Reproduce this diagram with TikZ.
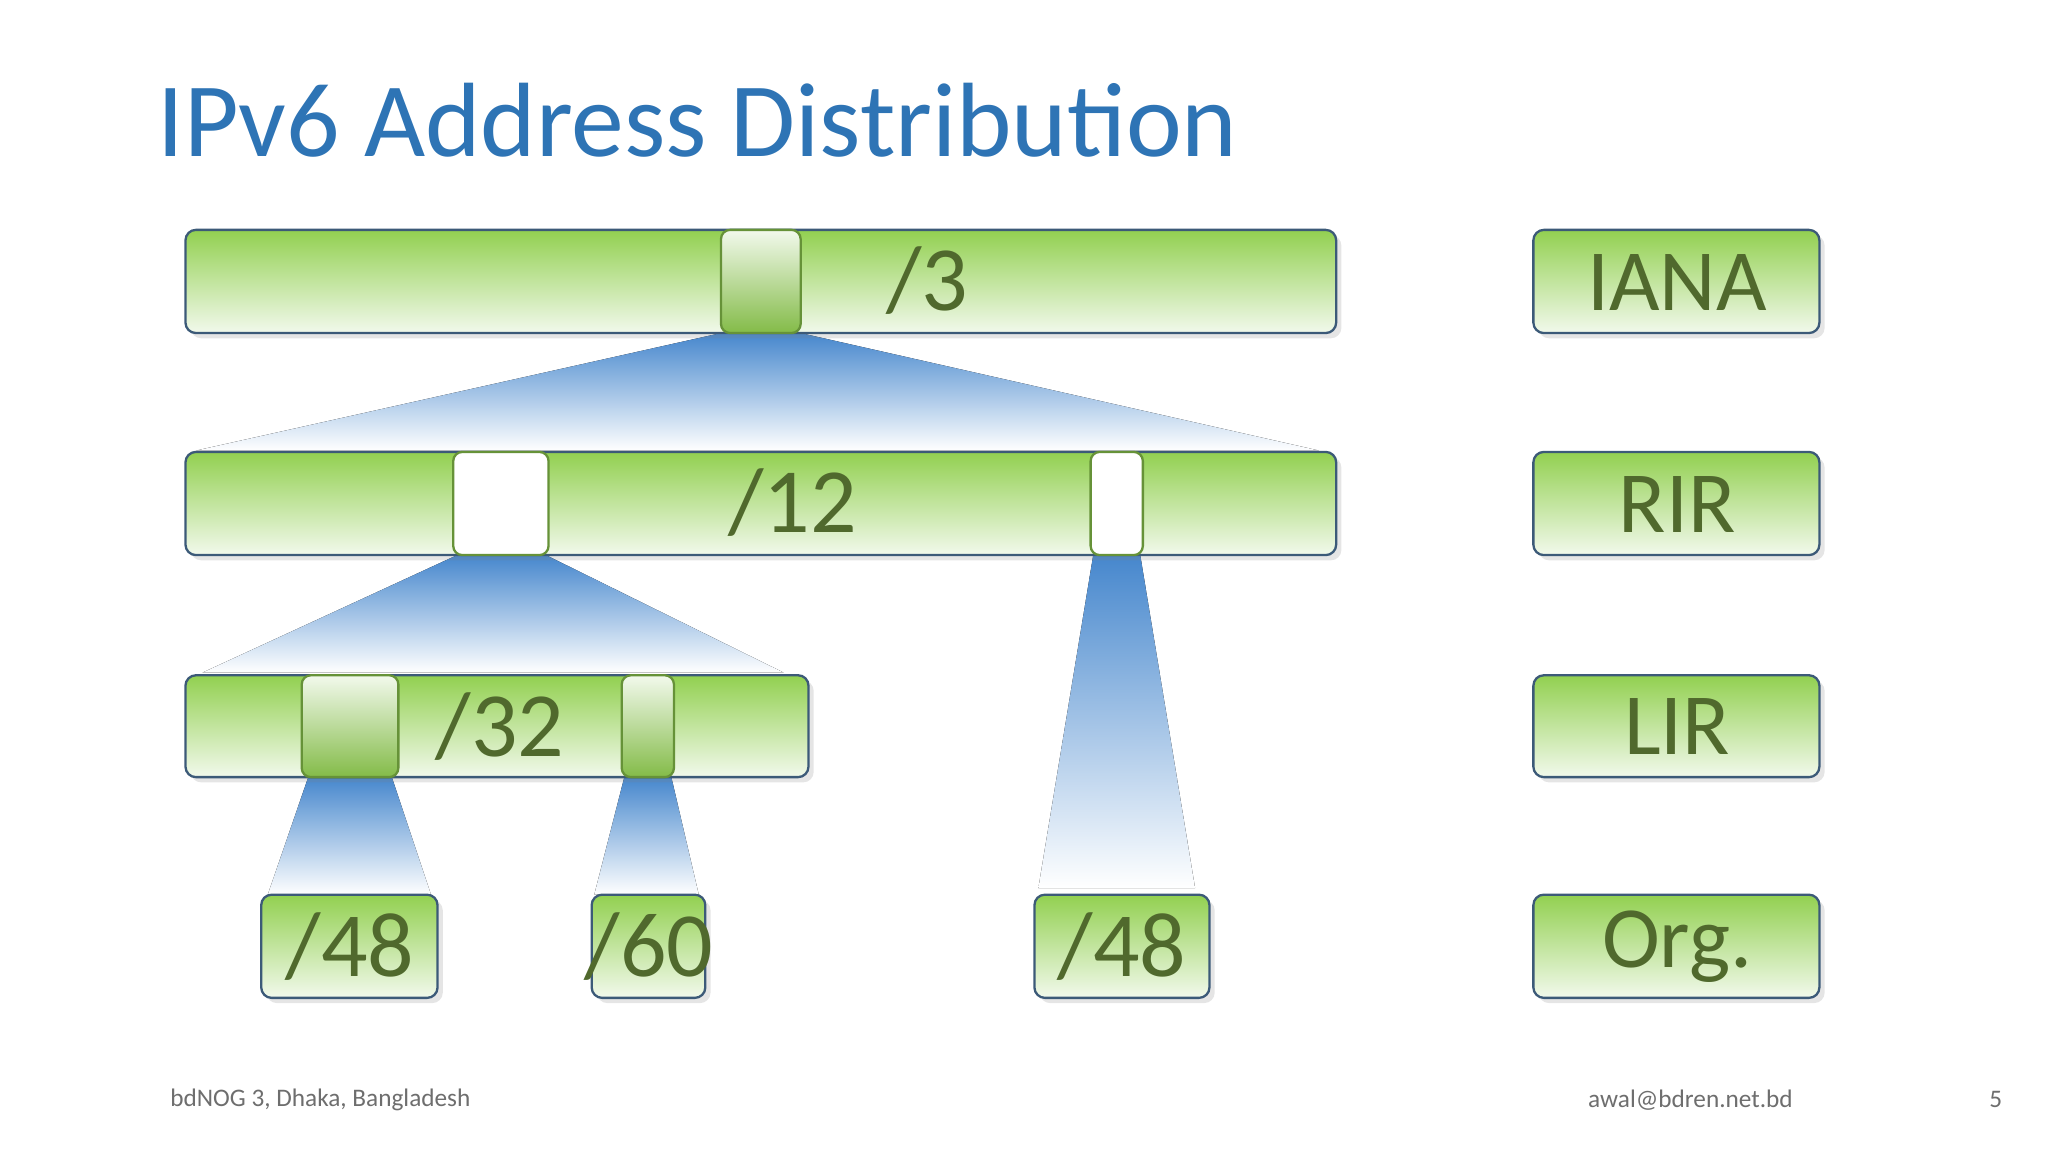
\documentclass[tikz,border=0pt]{standalone}
\usepackage{fontspec}
\setmainfont{Carlito}
\usetikzlibrary{shadows}
\definecolor{gtop}{RGB}{146,208,80}
\definecolor{gbot}{RGB}{242,249,236}
\definecolor{bord}{RGB}{60,90,120}
\definecolor{lab}{RGB}{80,105,45}
\definecolor{ttl}{RGB}{46,116,181}
\definecolor{fanb}{RGB}{70,135,205}
\definecolor{foot}{RGB}{110,110,110}
\tikzset{
  bar/.style={draw=bord,line width=0.5pt,rounded corners=0.08cm,top color=gtop,bottom color=gbot,
    drop shadow={opacity=0.2,shadow xshift=0.04cm,shadow yshift=-0.04cm}},
  gbox/.style={draw=gtop!70!black,line width=0.5pt,rounded corners=0.07cm,top color=gbot,bottom color=gtop!90!black},
  wbox/.style={draw=gtop!70!black,line width=0.5pt,rounded corners=0.07cm,fill=white},
  fan/.style={top color=fanb,bottom color=white,draw=none},
  lbl/.style={text=lab,font=\fontsize{20}{24}\selectfont},
  rlbl/.style={text=lab,font=\fontsize{19}{23}\selectfont},
  ft/.style={text=foot,font=\fontsize{5.5}{7}\selectfont}
}
\begin{document}
\begin{tikzpicture}[x=0.01cm,y=-0.01cm]
\useasboundingbox[fill=white] (0,0) rectangle (1568,882);
\node[anchor=base west,text=ttl,font=\fontsize{23}{28}\selectfont,inner sep=0] (title) at (120,120) {IPv6 Address Distribution};
% fans
\fill[fan] (552,255) -- (613,255) -- (1010,345) -- (150,345) -- cycle;
\fill[fan] (350,425) -- (418,425) -- (600,515) -- (155,515) -- cycle;
\fill[fan] (837,425) -- (873,425) -- (915,680) -- (795,680) -- cycle;
\fill[fan] (236,595) -- (300,595) -- (330,685) -- (205,685) -- cycle;
\fill[fan] (478,595) -- (514,595) -- (535,685) -- (455,685) -- cycle;
% bars
\path[bar] (142,176) rectangle (1023,255);
\path[gbox] (552,176) rectangle (613,255);
\node[lbl] (l3) at (710,215) {/3};
\path[bar] (142,346) rectangle (1023,425);
\path[wbox] (347,346) rectangle (420,425);
\path[wbox] (835,346) rectangle (875,425);
\node[lbl] (l12) at (607,385) {/12};
\path[bar] (142,517) rectangle (619,595);
\path[gbox] (231,517) rectangle (305,595);
\path[gbox] (476,517) rectangle (516,595);
\node[lbl] (l32) at (383,556) {/32};
% leaves
\path[bar] (200,685) rectangle (335,764);
\node[lbl] (l48a) at (268,725) {/48};
\path[bar] (453,685) rectangle (540,764);
\node[lbl] (l60) at (497,725) {/60};
\path[bar] (792,685) rectangle (926,764);
\node[lbl] (l48b) at (859,725) {/48};
% right
\path[bar] (1174,176) rectangle (1393,255);
\node[rlbl] (iana) at (1284,216) {IANA};
\path[bar] (1174,346) rectangle (1393,425);
\node[rlbl] (rir) at (1284,386) {RIR};
\path[bar] (1174,517) rectangle (1393,595);
\node[rlbl] (lir) at (1284,556) {LIR};
\path[bar] (1174,685) rectangle (1393,764);
\node[rlbl] (org) at (1284,725) {Org.};
% footer
\node[ft,anchor=west] (f1) at (118,842) {bdNOG 3, Dhaka, Bangladesh};
\node[ft,anchor=east] (f2) at (1385,842) {awal@bdren.net.bd};
\node[ft] (f3) at (1528,842) {5};
\end{tikzpicture}
\end{document}
